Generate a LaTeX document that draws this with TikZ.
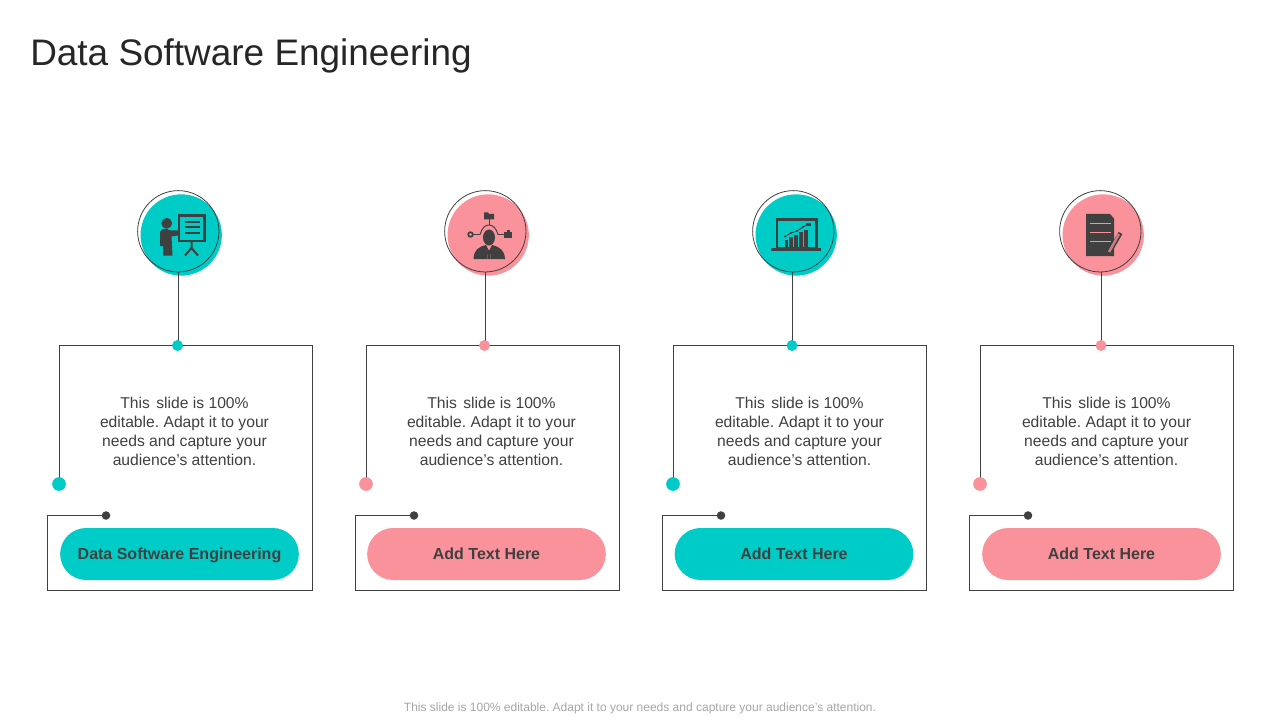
\documentclass[tikz,border=0pt]{standalone}
\usepackage{fontspec}
\setmainfont{Liberation Sans}
\definecolor{teal1}{HTML}{00CCC7}
\definecolor{pink1}{HTML}{F9929A}
\definecolor{ink}{HTML}{404040}
\tikzset{
  x=0.75pt,y=-0.75pt,
  wire/.style={draw=ink,line width=0.6pt},
  blob/.style={circle,inner sep=0pt,minimum size=#1},
  body/.style={align=center,text=ink,font=\fontsize{11.75}{14.25}\selectfont\frenchspacing,inner sep=0pt},
  pill/.style={rounded corners=19.5pt,minimum width=179pt,minimum height=39pt,inner sep=0pt,text=ink,font=\fontsize{12}{14}\selectfont\bfseries},
  iconline/.style={draw=ink,line width=1.5pt},
}
% #1 id, #2 colour, #3 outline-circle x, #4 stem x, #5 top dot x, #6 box left, #7 box right, #8 lower left,
% #9 dark dot x
\newcommand{\cardframe}[9]{%
  \node[blob=61pt,fill=#2] (fill#1) at (#3+3.2,235) {};
  \node[blob=61pt,draw=ink,line width=0.6pt] (ring#1) at (#3+0.3,231.3) {};
  \node[blob=8pt,fill=#2] (top#1) at (#5,345.5) {};
  \node[blob=10pt,fill=#2] (left#1) at (#6,484) {};
  \node[blob=6.4pt,fill=ink] (dark#1) at (#9,515.5) {};
  \coordinate (nw#1) at (#6,345);
  \coordinate (ne#1) at (#7,345);
  \coordinate (se#1) at (#7,590);
  \coordinate (sw#1) at (#8,590);
  \coordinate (ml#1) at (#8,515.5);
  \coordinate (st#1) at (#4,345);
  \coordinate (sb#1) at (#4,272);
  \draw[wire] (left#1.center) -- (nw#1) -- (ne#1) -- (se#1) -- (sw#1) -- (ml#1) -- (dark#1.center);
  \draw[wire] (sb#1) -- (st#1);
  \node[blob=8pt,fill=#2] at (top#1) {};
  \node[blob=10pt,fill=#2] at (left#1) {};
}
\newcommand{\bodytext}[2]{\node[body] (text#1) at (#2,431) {This\hspace{1.5pt} slide is 100\%\\editable. Adapt it to your\\needs and capture your\\audience’s attention.};}
\newcommand{\pilltext}[1]{\raisebox{-4.2pt}[0pt][0pt]{#1}}
\begin{document}
\begin{tikzpicture}
\useasboundingbox (0,0) rectangle (1280,720);
\fill[white] (0,0) rectangle (1280,720);
\node[anchor=west,inner sep=0pt,text=black!85,font=\fontsize{27.7}{32}\selectfont] (title) at (30,56) {Data Software Engineering};

\cardframe{1}{teal1}{178}{178.5}{177.5}{59}{312}{47}{106}
\cardframe{2}{pink1}{485}{485.5}{484.5}{366}{619}{355}{414}
\cardframe{3}{teal1}{793}{792.5}{792}{673}{926}{662}{721}
\cardframe{4}{pink1}{1100}{1101}{1101}{980}{1233}{969}{1028}

\bodytext{1}{184.5}
\bodytext{2}{491.5}
\bodytext{3}{799.5}
\bodytext{4}{1106.5}

\node[pill,fill=teal1] (pill1) at (179.5,554) {\pilltext{Data Software Engineering}};
\node[pill,fill=pink1] (pill2) at (486.5,554) {\pilltext{Add Text Here}};
\node[pill,fill=teal1] (pill3) at (794,554) {\pilltext{Add Text Here}};
\node[pill,fill=pink1] (pill4) at (1101.5,554) {\pilltext{Add Text Here}};

\node[text=black!35,inner sep=0pt,font=\fontsize{9}{11}\selectfont\frenchspacing] (foot) at (640,708) {This slide is 100\% editable. Adapt it to your needs and capture your audience’s attention.};

% icon 1: presenter and board
\fill[ink] (166.7,223.3) circle[radius=5.4];
\fill[ink] (160,233) .. controls (160,229.5) and (163,228.5) .. (166,228.5) -- (170,230.5) -- (178,230.5) -- (178,235.5) -- (171.5,236.5) -- (172.5,255.5) -- (163,255.5) -- (163,246) -- (160,246) -- cycle;
\draw[iconline,line width=1.6pt] (179,215.5) rectangle (204.5,241);
\draw[iconline] (184.5,222) -- (199.5,222) (184.5,227.5) -- (199.5,227.5) (184.5,233) -- (199.5,233);
\draw[iconline] (191.5,241) -- (191.5,248) (185,255.5) -- (191.5,248) -- (198,255.5);

% icon 2: manager
\fill[ink] (489,237.5) ellipse[x radius=6,y radius=8];
\fill[ink] (473.5,259) .. controls (474,250) and (478,247) .. (486,245) -- (488,249) -- (487.5,259) -- cycle;
\fill[ink] (505,259) .. controls (504.5,250) and (500,247) .. (492,245) -- (490,249) -- (490.5,259) -- cycle;
\fill[ink] (488.2,249.5) -- (489.8,249.5) -- (490.3,259) -- (487.7,259) -- cycle;
\fill[ink] (484,212.5) -- (488,212.5) -- (489,214) -- (494,214) -- (494,219.5) -- (484,219.5) -- cycle;
\draw[ink,line width=0.7pt] (489,219.5) -- (489,225);
\draw[ink,line width=0.7pt] (473,234.5) -- (480,234.5) .. controls (482,228) and (485,225) .. (489,225) .. controls (493,225) and (496,228) .. (498,234.5) -- (504,234.5);
\draw[ink,line width=1.3pt] (470.5,234.5) circle[radius=2.3];
\fill[ink] (504,232) rectangle (512,238);
\fill[ink] (506.5,230.5) rectangle (509.5,232);

% icon 3: laptop chart
\draw[iconline,line width=1.6pt] (777,219.5) rectangle (816.5,248.5);
\fill[ink] (771,248) rectangle (821,250.5);
\fill[ink] (784.5,240) rectangle (788.3,248);
\fill[ink] (789,237.5) rectangle (793.3,248);
\fill[ink] (794,235) rectangle (798.3,248);
\fill[ink] (799,232.5) rectangle (803.3,248);
\fill[ink] (804,230) rectangle (807.8,248);
\draw[ink,line width=0.7pt] (785,236.5) -- (791,233) -- (797,231) -- (803,227) -- (807,224.5);
\fill[ink] (785,236.5) circle[radius=1.2] (791,233) circle[radius=1.2] (797,231) circle[radius=1.2] (803,227) circle[radius=1.2];
\fill[ink] (806,223) rectangle (810.5,226.5);

% icon 4: document and pen
\fill[ink] (1086,214) -- (1110,214) -- (1114,218.5) -- (1114,256) -- (1086,256) -- cycle;
\draw[pink1,line width=0.6pt] (1090,223.3) -- (1110.5,223.3) (1090,232.7) -- (1110.5,232.7) (1090,241.7) -- (1110.5,241.7);
\draw[ink,line width=3.2pt] (1120.5,233) -- (1109.5,252);
\draw[pink1!75!ink,line width=1.8pt] (1119,234) -- (1109,252);
\end{tikzpicture}
\end{document}
